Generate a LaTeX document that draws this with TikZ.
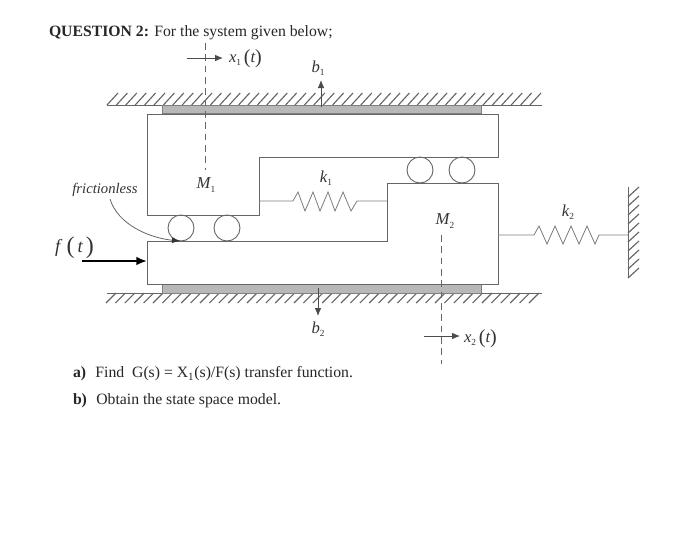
\documentclass[tikz,border=0pt]{standalone}
\usepackage{fontspec}
\setmainfont{Liberation Serif}
\usetikzlibrary{arrows.meta}
\definecolor{ink}{gray}{0.40}
\definecolor{pad}{gray}{0.72}
\definecolor{padedge}{gray}{0.5}
\newcommand{\subm}[1]{\raisebox{-2.5pt}{\fontsize{7pt}{8pt}\selectfont\upshape #1}}
\newcommand{\bigparen}[1]{\raisebox{-1pt}{\fontsize{15pt}{16pt}\selectfont\upshape #1}}
\begin{document}
\begin{tikzpicture}[x=0.75pt,y=-0.75pt,
  body/.style={draw=ink,line width=0.7pt,fill=none},
  roller/.style={draw=ink,line width=0.7pt,circle,minimum size=19.5pt,inner sep=0pt},
  padstyle/.style={fill=pad,draw=padedge,line width=0.5pt},
  wallline/.style={draw=ink,line width=0.7pt},
  hatch/.style={draw=ink,line width=0.85pt},
  dashline/.style={draw=ink,line width=0.6pt,dash pattern=on 5pt off 3.5pt},
  arrowline/.style={draw=black!70,line width=0.7pt,-{Latex[length=6pt,width=5pt]}},
  springline/.style={draw=ink!85,line width=0.6pt},
  txt/.style={inner sep=0pt,outer sep=0pt,text=black!85,font=\fontsize{11.8pt}{14pt}\selectfont},
  sym/.style={inner sep=0pt,outer sep=0pt,text=black!80,font=\fontsize{12.5pt}{14pt}\selectfont\itshape}]
\useasboundingbox (0,0) rectangle (700,533);
\fill[white] (0,0) rectangle (700,533);

% hatching
\foreach \i in {0,...,45} {
  \draw[hatch] ({107+\i*9.4},105) -- ({118+\i*9.4},93);
  \draw[hatch] ({106+\i*9.4},303) -- ({116+\i*9.4},293);
}
\foreach \i in {0,...,9} {
  \draw[hatch] (628,{197+\i*9}) -- (639,{187+\i*9});
}
\draw[wallline] (107,105) -- (542,105);
\draw[wallline] (107,293) -- (542,293);
\draw[wallline] (628,187) -- (628,278);

% viscous pads
\node[padstyle,minimum width=239.25pt,minimum height=6pt,inner sep=0pt] (padtop) at (321.5,109.5) {};
\node[padstyle,minimum width=239.25pt,minimum height=6.5pt,inner sep=0pt] (padbot) at (321.5,288.5) {};

% masses
\draw[body] (147,114) -- (498,114) -- (498,157) -- (259,157) -- (259,215) -- (147,215) -- cycle;
\draw[body] (147,241) -- (387,241) -- (387,183) -- (498,183) -- (498,284) -- (147,284) -- cycle;

% rollers
\node[roller] (r1) at (181,228) {};
\node[roller] (r2) at (227,228) {};
\node[roller] (r3) at (420,170) {};
\node[roller] (r4) at (462,170) {};

% springs
\coordinate (k1a) at (259,201);
\coordinate (k1b) at (387,201);
\coordinate (k2a) at (498,235);
\coordinate (k2b) at (628,235);
\draw[springline] (k1a) -- (293,201) -- (298,192) -- (305,211) -- (313,192) -- (320,211) -- (328,192) -- (335,211) -- (343,192) -- (351,211) -- (357,201) -- (k1b);
\draw[springline] (k2a) -- (534,235) -- (539,226) -- (547,244) -- (555,226) -- (563,244) -- (571,226) -- (579,244) -- (587,226) -- (595,244) -- (599,235) -- (k2b);

% dashed reference lines
\coordinate (d1a) at (205,43);
\coordinate (d1b) at (205,170);
\coordinate (d2a) at (441,235);
\coordinate (d2b) at (441,364);
\draw[dashline] (d1a) -- (d1b);
\draw[dashline] (d2a) -- (d2b);

% labels
\node[txt,anchor=west] (title) at (49,33) {\textbf{QUESTION 2:} For the system given below;};
\node[sym,anchor=west] (x1) at (229,59) {x\subm{1}\,\bigparen{(}t\bigparen{)}};
\node[sym] (b1) at (318,68) {b\subm{1}};
\node[sym] (m1) at (206,185) {M\subm{1}};
\node[sym] (k1) at (326,178) {k\subm{1}};
\node[sym,font=\fontsize{11pt}{13pt}\selectfont\itshape] (fr) at (105,190) {frictionless};
\node[sym,font=\fontsize{14pt}{16pt}\selectfont\itshape] (f) at (74.5,248) {f\,\,\raisebox{-1pt}{\fontsize{18pt}{18pt}\selectfont\upshape (}\,t\,\raisebox{-1pt}{\fontsize{18pt}{18pt}\selectfont\upshape )}};
\node[sym] (m2) at (445,221) {M\subm{2}};
\node[sym] (k2) at (568,212) {k\subm{2}};
\node[sym] (b2) at (318,329) {b\subm{2}};
\node[sym,anchor=west] (x2) at (464,339) {x\subm{2}\,\bigparen{(}t\bigparen{)}};
\node[txt,anchor=west] (qa) at (73,374) {\textbf{a)}\hspace{7pt}Find\ \ G(s) = X\textsubscript{1}(s)/F(s) transfer function.};
\node[txt,anchor=west] (qb) at (73,401) {\textbf{b)}\hspace{7pt}Obtain the state space model.};

% arrows
\coordinate (x1s) at (187,58);
\coordinate (x1e) at (223,58);
\coordinate (x2s) at (424,336);
\coordinate (x2e) at (460,336);
\coordinate (b1s) at (321,107);
\coordinate (b1e) at (321,80);
\coordinate (b2s) at (318,288);
\coordinate (b2e) at (318,316);
\coordinate (fs) at (82,261);
\coordinate (fe) at (147,261);
\coordinate (frs) at (110,199);
\coordinate (fre) at (180,241);
\draw[arrowline] (x1s) -- (x1e);
\draw[arrowline] (x2s) -- (x2e);
\draw[arrowline] (b1s) -- (b1e);
\draw[arrowline] (b2s) -- (b2e);
\draw[draw=black,line width=1.4pt,-{Latex[length=8pt,width=6.5pt]}] (fs) -- (fe);
\draw[draw=ink,line width=0.6pt,-{Latex[length=6pt,width=4.5pt,black!80]}] (frs) .. controls (118,225) and (150,238) .. (fre);
\end{tikzpicture}
\end{document}
